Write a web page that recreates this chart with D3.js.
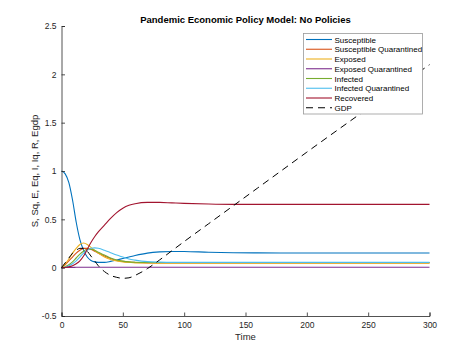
<!DOCTYPE html>
<html><head><meta charset="utf-8">
<script src="https://cdn.jsdelivr.net/npm/d3@7"></script>
<style>body{margin:0;background:#fff}svg{display:block}text{font-family:"Liberation Sans",Arial,sans-serif}</style>
</head><body><svg id="c" width="474" height="355"></svg>
<script>
const time = [0,3,6,9,12,15,18,21,24,27,30,35,40,45,50,55,60,70,80,90,100,120,140,160,180,200,250,300];
const susceptible = [1.0,0.97,0.88,0.70,0.47,0.29,0.18,0.11,0.075,0.06,0.055,0.055,0.065,0.08,0.095,0.11,0.125,0.15,0.163,0.168,0.167,0.16,0.155,0.153,0.152,0.152,0.152,0.152];
const suscQuar = [0,0.03,0.07,0.11,0.15,0.18,0.2,0.2,0.19,0.17,0.15,0.12,0.095,0.075,0.065,0.058,0.054,0.05,0.05,0.05,0.05,0.05,0.05,0.05,0.05,0.05,0.05,0.05];
const exposed = [0,0.04,0.09,0.15,0.2,0.24,0.255,0.24,0.21,0.18,0.15,0.11,0.085,0.07,0.06,0.055,0.05,0.048,0.047,0.047,0.047,0.047,0.047,0.047,0.047,0.047,0.047,0.047];
const exposedQuar = [0,0.001,0.002,0.003,0.004,0.005,0.005,0.005,0.005,0.005,0.005,0.005,0.005,0.005,0.005,0.005,0.005,0.005,0.005,0.005,0.005,0.005,0.005,0.005,0.005,0.005,0.005,0.005];
const infected = [0,0.01,0.03,0.06,0.1,0.14,0.17,0.19,0.19,0.18,0.16,0.13,0.1,0.08,0.068,0.06,0.056,0.053,0.053,0.053,0.053,0.053,0.053,0.053,0.053,0.053,0.053,0.053];
const infectedQuar = [0,0.005,0.02,0.04,0.07,0.11,0.15,0.18,0.2,0.205,0.2,0.18,0.155,0.13,0.11,0.09,0.078,0.062,0.057,0.055,0.055,0.055,0.055,0.055,0.055,0.055,0.055,0.055];
const recovered = [0,0.002,0.008,0.02,0.04,0.07,0.12,0.19,0.26,0.32,0.37,0.44,0.51,0.57,0.615,0.645,0.662,0.675,0.675,0.67,0.665,0.658,0.655,0.655,0.655,0.655,0.655,0.655];
const gdp = [0,0.05,0.1,0.15,0.18,0.2,0.2,0.17,0.12,0.07,0.02,-0.04,-0.08,-0.1,-0.11,-0.105,-0.08,-0.01,0.08,0.175,0.27,0.455,0.64,0.825,1.01,1.195,1.65,2.1];

const seriesNames = ["Susceptible","Susceptible Quarantined","Exposed","Exposed Quarantined","Infected","Infected Quarantined","Recovered","GDP"];
const seriesData = [susceptible,suscQuar,exposed,exposedQuar,infected,infectedQuar,recovered,gdp];
const colors = ["#0072BD","#D95319","#EDB120","#7E2F8E","#77AC30","#4DBEEE","#A2142F","#000000"];
const xTicks = [0,50,100,150,200,250,300];
const yTicks = [-0.5,0,0.5,1,1.5,2,2.5];

const svg = d3.select("#c");
const L=61.5,R=429.5,T=26,B=316;
const x = d3.scaleLinear().domain([0,300]).range([L,R]);
const y = d3.scaleLinear().domain([-0.5,2.5]).range([B,T]);
const axCol="#262626";

const line = d3.line().x(d=>x(d[0])).y(d=>y(d[1])).curve(d3.curveMonotoneX);
seriesData.forEach((s,i)=>{
  svg.append("path").datum(time.map((t,j)=>[t,s[j]]))
    .attr("d",line).attr("fill","none").attr("stroke",colors[i])
    .attr("stroke-width",i===7?1:1.1)
    .attr("stroke-dasharray",i===7?"7,5":null);
});

const xa = svg.append("g").attr("transform",`translate(0,${B})`)
  .call(d3.axisBottom(x).tickValues(xTicks).tickSize(-3.5).tickPadding(6).tickFormat(d3.format("d")));
const ya = svg.append("g").attr("transform",`translate(${L},0)`)
  .call(d3.axisLeft(y).tickValues(yTicks).tickSize(-3.5).tickPadding(5).tickFormat(d=>String(d)));
[xa,ya].forEach(a=>{
  a.select(".domain").attr("stroke",axCol).attr("stroke-width",0.8);
  a.selectAll(".tick line").attr("stroke",axCol).attr("stroke-width",0.8);
  a.selectAll(".tick text").attr("fill",axCol).attr("font-size",8.5).attr("font-family","Liberation Sans, Arial, sans-serif");
});

svg.append("text").attr("x",(L+R)/2).attr("y",23).attr("text-anchor","middle")
  .attr("font-weight","bold").attr("font-size",9.5).attr("fill","#000").text("Pandemic Economic Policy Model: No Policies");
svg.append("text").attr("x",(L+R)/2).attr("y",340).attr("text-anchor","middle")
  .attr("font-size",9.5).attr("fill",axCol).text("Time");
svg.append("text").attr("transform",`translate(38,${(T+B)/2}) rotate(-90)`).attr("text-anchor","middle")
  .attr("font-size",9.5).attr("fill",axCol).text("S, Sq, E, Eq, I, Iq, R, Egdp");

// legend
const lg = svg.append("g");
lg.append("rect").attr("x",303.5).attr("y",33.5).attr("width",119).attr("height",80.5)
  .attr("fill","#fff").attr("stroke","#9a9a9a").attr("stroke-width",0.8);
seriesNames.forEach((n,i)=>{
  const yy = 39.5 + i*9.75;
  lg.append("line").attr("x1",306).attr("x2",332).attr("y1",yy).attr("y2",yy)
    .attr("stroke",colors[i]).attr("stroke-width",1.1).attr("stroke-dasharray",i===7?"7,5":null);
  lg.append("text").attr("x",334.5).attr("y",yy+3).attr("font-size",8).attr("fill","#000").text(n);
});
</script></body></html>
